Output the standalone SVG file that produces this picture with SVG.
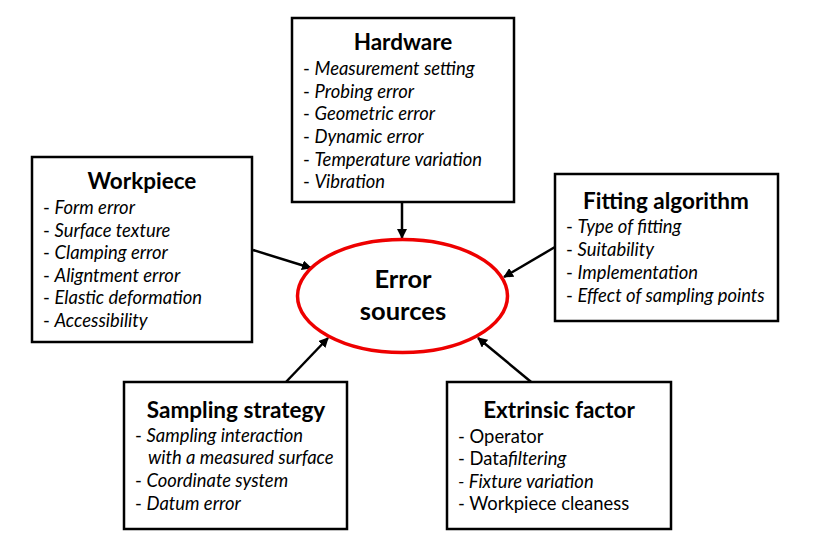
<svg xmlns="http://www.w3.org/2000/svg" width="813" height="557" viewBox="0 0 813 557">
<style>
.box{fill:#fff;stroke:#000;stroke-width:2.5}
.t{font-family:Lato,"Open Sans",sans-serif;font-weight:bold;font-size:22.5px;fill:#000;text-anchor:middle}
.i{font-family:Lato,"Open Sans",sans-serif;font-size:18.4px;fill:#000}
.it{font-style:italic}
.c{stroke:#000;stroke-width:2.5;fill:none;marker-end:url(#ah)}
.e{fill:#fff;stroke:#e00;stroke-width:3.5}
.et{font-family:Lato,"Open Sans",sans-serif;font-weight:bold;font-size:25.5px;fill:#000;text-anchor:middle}
</style>
<defs>
<marker id="ah" viewBox="0 0 10 10" refX="9" refY="5" markerWidth="4" markerHeight="4" orient="auto" markerUnits="strokeWidth">
<path d="M0,0 L10,5 L0,10 z" fill="#000"/>
</marker>
</defs>
<rect width="813" height="557" fill="#fff"/>
<g id="connectors">
<line class="c" x1="402" y1="202" x2="402" y2="238"/>
<line class="c" x1="253" y1="250" x2="311" y2="268"/>
<line class="c" x1="555" y1="247" x2="504" y2="277"/>
<line class="c" x1="285" y1="383" x2="328" y2="338"/>
<line class="c" x1="536" y1="386" x2="478" y2="338"/>
</g>
<g id="error-sources">
<ellipse class="e" cx="402.5" cy="296" rx="105" ry="56.5"/>
<text class="et" x="403" y="288">Error</text>
<text class="et" x="403" y="320">sources</text>
</g>
<g id="hardware">
<rect class="box" x="292" y="18" width="222" height="184"/>
<text class="t" x="403" y="50">Hardware</text>
<text class="i" x="303" y="75">- <tspan class="it">Measurement setting</tspan></text>
<text class="i" x="303" y="98">- <tspan class="it">Probing error</tspan></text>
<text class="i" x="303" y="120">- <tspan class="it">Geometric error</tspan></text>
<text class="i" x="303" y="143">- <tspan class="it">Dynamic error</tspan></text>
<text class="i" x="303" y="166">- <tspan class="it">Temperature variation</tspan></text>
<text class="i" x="303" y="188">- <tspan class="it">Vibration</tspan></text>
</g>
<g id="workpiece">
<rect class="box" x="32" y="157" width="220" height="185"/>
<text class="t" x="142" y="189">Workpiece</text>
<text class="i" x="43" y="214">- <tspan class="it">Form error</tspan></text>
<text class="i" x="43" y="237">- <tspan class="it">Surface texture</tspan></text>
<text class="i" x="43" y="259">- <tspan class="it">Clamping error</tspan></text>
<text class="i" x="43" y="282">- <tspan class="it">Aligntment error</tspan></text>
<text class="i" x="43" y="304">- <tspan class="it">Elastic deformation</tspan></text>
<text class="i" x="43" y="327">- <tspan class="it">Accessibility</tspan></text>
</g>
<g id="fitting-algorithm">
<rect class="box" x="555" y="174" width="223" height="147"/>
<text class="t" x="666" y="209">Fitting algorithm</text>
<text class="i" x="566" y="233">- <tspan class="it">Type of fitting</tspan></text>
<text class="i" x="566" y="256">- <tspan class="it">Suitability</tspan></text>
<text class="i" x="566" y="279">- <tspan class="it">Implementation</tspan></text>
<text class="i" x="566" y="302">- <tspan class="it">Effect of sampling points</tspan></text>
</g>
<g id="sampling-strategy">
<rect class="box" x="124" y="382" width="223" height="147"/>
<text class="t" x="236" y="418">Sampling strategy</text>
<text class="i" x="135" y="442">- <tspan class="it">Sampling interaction</tspan></text>
<text class="i it" x="148" y="464">with a measured surface</text>
<text class="i" x="135" y="487">- <tspan class="it">Coordinate system</tspan></text>
<text class="i" x="135" y="510">- <tspan class="it">Datum error</tspan></text>
</g>
<g id="extrinsic-factor">
<rect class="box" x="447" y="382" width="224" height="147"/>
<text class="t" x="559" y="418">Extrinsic factor</text>
<text class="i" x="458" y="443">- Operator</text>
<text class="i" x="458" y="465">- Data<tspan class="it">filtering</tspan></text>
<text class="i it" x="458" y="488">- Fixture variation</text>
<text class="i" x="458" y="510">- Workpiece cleaness</text>
</g>
</svg>
